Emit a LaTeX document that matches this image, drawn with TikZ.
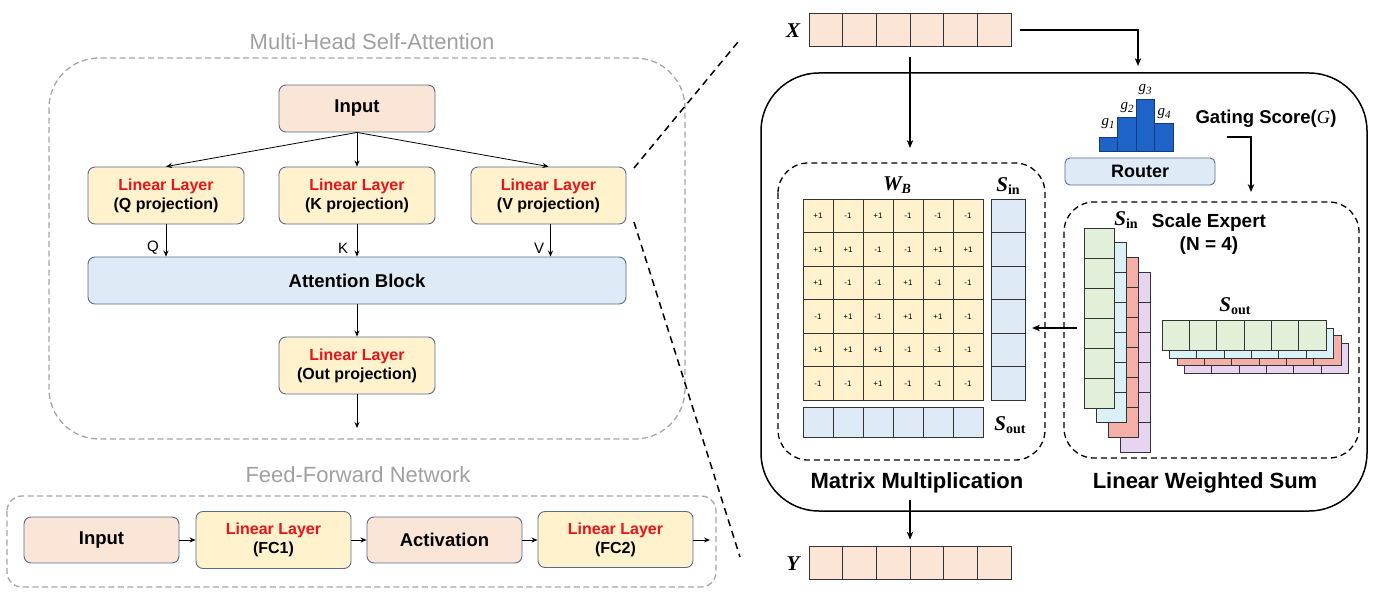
\documentclass[tikz,border=0pt]{standalone}
\usepackage{fontspec}
\setmainfont{Liberation Sans}
\newfontfamily\serf{Liberation Serif}
\usetikzlibrary{arrows.meta,calc}
\definecolor{peach}{HTML}{FBE5D6}
\definecolor{yel}{HTML}{FFF2CC}
\definecolor{lblue}{HTML}{DEEBF7}
\definecolor{bord}{HTML}{5A6B8C}
\definecolor{redt}{HTML}{E8141B}
\definecolor{gtitle}{HTML}{A0A0A0}
\definecolor{gdash}{HTML}{A6A6A6}
\definecolor{sgreen}{HTML}{E2F0D9}
\definecolor{sblue}{HTML}{DAF2F7}
\definecolor{sred}{HTML}{F4B0A8}
\definecolor{spurp}{HTML}{E6D4F0}
\definecolor{barb}{HTML}{1E63C8}
\newcommand\fs[1]{\fontsize{#1}{#1}\selectfont}
\newcommand\subl[2][14]{\raisebox{-0.35ex}{\fs{#1}#2}}
\begin{document}
\begin{tikzpicture}[x=1pt,y=-1pt,
  blk/.style={draw=bord, line width=0.9pt, rounded corners=7pt, inner sep=0pt, align=center, font=\fontsize{16}{19}\selectfont\bfseries},
  arr/.style={-{Stealth[length=6pt,width=5pt]}, line width=0.8pt},
  garr/.style={-{Stealth[length=8pt,width=6.5pt]}, line width=1.2pt},
  gdsh/.style={draw=gdash, line width=1.3pt, dash pattern=on 6pt off 3.5pt},
  bdsh/.style={draw=black, line width=1.3pt, dash pattern=on 6pt off 4pt},
  zoomd/.style={draw=black, line width=1.5pt, dash pattern=on 7pt off 5pt},
  ttl/.style={text=gtitle, font=\fs{22}},
  cellv/.style={font=\fs{8}, inner sep=0pt},
  cellb/.style={draw=black!80, line width=0.7pt},
  mlab/.style={font=\fs{21}\serf\bfseries\itshape, inner sep=0pt},
  glab/.style={font=\fs{15}\serf\itshape, inner sep=0pt},
  lab/.style={font=\fs{22}\bfseries},
]
\useasboundingbox (0,0) rectangle (1376,602);

% ---------------- Multi-Head Self-Attention ----------------
\node[ttl] (mhtitle) at (372,42) {Multi-Head Self-Attention};
\draw[gdsh, rounded corners=50pt] (49,58) rectangle (685,439);

\node[blk, fill=peach, minimum width=156pt, minimum height=47pt, font=\fs{18.5}\bfseries] (inp) at (357,108.5) {Input};
\node[blk, fill=yel, minimum width=156pt, minimum height=57pt] (lq) at (166,195.5) {\textcolor{redt}{Linear Layer}\\(Q projection)};
\node[blk, fill=yel, minimum width=156pt, minimum height=57pt] (lk) at (357,195.5) {\textcolor{redt}{Linear Layer}\\(K projection)};
\node[blk, fill=yel, minimum width=155pt, minimum height=57pt] (lv) at (548.5,195.5) {\textcolor{redt}{Linear Layer}\\(V projection)};
\node[blk, fill=lblue, minimum width=538pt, minimum height=47pt, font=\fs{18.5}\bfseries] (att) at (357,280.5) {Attention Block};
\node[blk, fill=yel, minimum width=156pt, minimum height=57pt] (lo) at (357,365.5) {\textcolor{redt}{Linear Layer}\\(Out projection)};

\draw[arr] (inp.south) -- (lq.north);
\draw[arr] (inp.south) -- (lk.north);
\draw[arr] (inp.south) -- (lv.north);
\draw[arr] (lq.south) -- (lq.south |- att.north);
\draw[arr] (lk.south) -- (lk.south |- att.north);
\draw[arr] ([xshift=2pt]lv.south) -- ([xshift=2pt]lv.south |- att.north);
\node[font=\fs{15}] (qlab) at (153,248) {Q};
\node[font=\fs{15}] (klab) at (343,248) {K};
\node[font=\fs{15}] (vlab) at (539,248) {V};
\draw[arr] (att.south) -- (lo.north);
\coordinate (mhout) at (357,428);
\draw[arr] (lo.south) -- (mhout);

% ---------------- Feed-Forward Network ----------------
\node[ttl] (fftitle) at (358,475) {Feed-Forward Network};
\draw[gdsh, rounded corners=15pt] (7,496) rectangle (716,587);
\node[blk, fill=peach, minimum width=155pt, minimum height=46pt, font=\fs{18.5}\bfseries] (fin) at (101.5,540) {Input};
\node[blk, fill=yel, minimum width=155pt, minimum height=57pt] (fc1) at (273.5,540) {\textcolor{redt}{Linear Layer}\\(FC1)};
\node[blk, fill=peach, minimum width=155pt, minimum height=46pt, font=\fs{18.5}\bfseries] (act) at (444.5,540) {Activation};
\node[blk, fill=yel, minimum width=155pt, minimum height=56pt] (fc2) at (615.5,539.5) {\textcolor{redt}{Linear Layer}\\(FC2)};
\draw[arr] (fin.east) -- (fc1.west);
\draw[arr] (fc1.east) -- (act.west);
\draw[arr] (act.east) -- (act.east -| fc2.west);
\coordinate (ffout) at (710,540);
\draw[arr] (fc2.east |- ffout) -- (ffout);

% ---------------- zoom lines ----------------
\coordinate (z1a) at (634,168); \coordinate (z1b) at (738,42);
\coordinate (z2a) at (634,222); \coordinate (z2b) at (740,557);
\draw[zoomd] (z1a) -- (z1b);
\draw[zoomd] (z2a) -- (z2b);

% ---------------- Right part ----------------
% X vector
\node[draw=black!80, line width=0.7pt, fill=peach, minimum width=202pt, minimum height=33pt, inner sep=0pt] (xvec) at (910,29.5) {};
\foreach \i in {1,...,5} \draw[cellb] (809+33.667*\i,13) -- ++(0,33);
\node[mlab] (xlab) at (793,31) {X};

% main box
\draw[line width=1.5pt, rounded corners=58pt] (761,73) rectangle (1367,511);

% arrows from X
\coordinate (xr) at (1020,30);
\coordinate (rin) at (1138,66);
\draw[garr] (xr) -| (rin);
\coordinate (xb) at (910,57);
\coordinate (mmin) at (910,148);
\draw[garr] (xb) -- (mmin);

% Router & histogram
\foreach \x/\t [count=\k] in {1099/137,1117.5/117,1136/99,1154.5/123}
  \draw[fill=barb, draw=barb!60!black, line width=0.6pt] (\x,\t) rectangle (\x+18.5,151);
\node[glab] (g1) at (1108,124) {g\subl[11]{1}};
\node[glab] (g2) at (1127,108) {g\subl[11]{2}};
\node[glab] (g3) at (1145,90) {g\subl[11]{3}};
\node[glab] (g4) at (1164,114) {g\subl[11]{4}};
\node[blk, fill=lblue, minimum width=150pt, minimum height=27pt, rounded corners=5pt, font=\fs{18}\bfseries] (router) at (1140,171.5) {Router};
\node[font=\fs{18.5}\bfseries, inner sep=0pt] (gate) at (1266,119) {Gating Score({\serf\mdseries\itshape G})};
\coordinate (gs) at (1227,137);
\coordinate (ge) at (1251,192);
\draw[garr] (gs) -| (ge);

% Matrix multiplication box
\draw[bdsh, rounded corners=30pt] (778,163) rectangle (1045,460);
\draw[cellb, fill=yel] (803,199) rectangle (983,400);
\foreach \i in {1,...,5} {
  \draw[cellb] (803+30*\i,199) -- ++(0,201);
  \draw[cellb] (803,199+33.5*\i) -- ++(180,0);
}
\foreach \row [count=\r from 0] in {{+1,-1,+1,-1,-1,-1},{+1,+1,-1,-1,+1,+1},{+1,-1,-1,+1,-1,-1},{-1,+1,-1,+1,+1,-1},{+1,+1,+1,-1,-1,-1},{-1,-1,+1,-1,-1,-1}} {
  \foreach \v [count=\c from 0] in \row {
    \node[cellv] (m-\r-\c) at (818+30*\c,215.75+33.5*\r) {\v};
  }
}
\draw[cellb, fill=lblue] (991,199) rectangle (1025,400);
\foreach \i in {1,...,5} \draw[cellb] (991,199+33.5*\i) -- ++(34,0);
\draw[cellb, fill=lblue] (803,407) rectangle (983,437);
\foreach \i in {1,...,5} \draw[cellb] (803+30*\i,407) -- ++(0,30);
\node[mlab] (wb) at (897,185) {W\subl{\itshape B}};
\node[mlab] (sin1) at (1008,186) {S\subl{\upshape in}};
\node[mlab] (sout1) at (1010,425) {S\subl{\upshape out}};

% Scale expert box
\draw[bdsh, rounded corners=30pt] (1064,202) rectangle (1359,458);
\foreach \c/\x/\y in {spurp/1120/272, sred/1108/257, sblue/1096/242.5, sgreen/1084/228} {
  \draw[cellb, fill=\c] (\x,\y) rectangle (\x+30,\y+180);
  \foreach \i in {1,...,5} \draw[cellb] (\x,\y+30*\i) -- ++(30,0);
}
\foreach \c/\x/\y in {spurp/1184.5/343, sred/1177/335.5, sblue/1169.5/328, sgreen/1162/320} {
  \draw[cellb, fill=\c] (\x,\y) rectangle (\x+164,\y+30);
  \foreach \i in {1,...,5} \draw[cellb] (\x+27.333*\i,\y) -- ++(0,30);
}
\node[mlab] (sin2) at (1126,220) {S\subl{\upshape in}};
\node[mlab] (sout2) at (1235,306) {S\subl{\upshape out}};
\node[font=\fs{19}\bfseries, align=center, inner sep=0pt] (se) at (1209,234) {Scale Expert\\[4pt](N = 4)};

\coordinate (sea) at (1077,328);
\coordinate (mma) at (1032,328);
\draw[garr] (sea) -- (mma);

\node[lab] (mmlab) at (917,483) {Matrix Multiplication};
\node[lab] (lwlab) at (1205,483) {Linear Weighted Sum};

% Y vector
\coordinate (mo) at (910,500);
\node[draw=black!80, line width=0.7pt, fill=peach, minimum width=202pt, minimum height=33pt, inner sep=0pt] (yvec) at (910,562.5) {};
\foreach \i in {1,...,5} \draw[cellb] (809+33.667*\i,546) -- ++(0,33);
\node[mlab] (ylab) at (793,564) {Y};
\draw[garr] (mo) -- ([yshift=6pt]yvec.north);
\end{tikzpicture}
\end{document}
